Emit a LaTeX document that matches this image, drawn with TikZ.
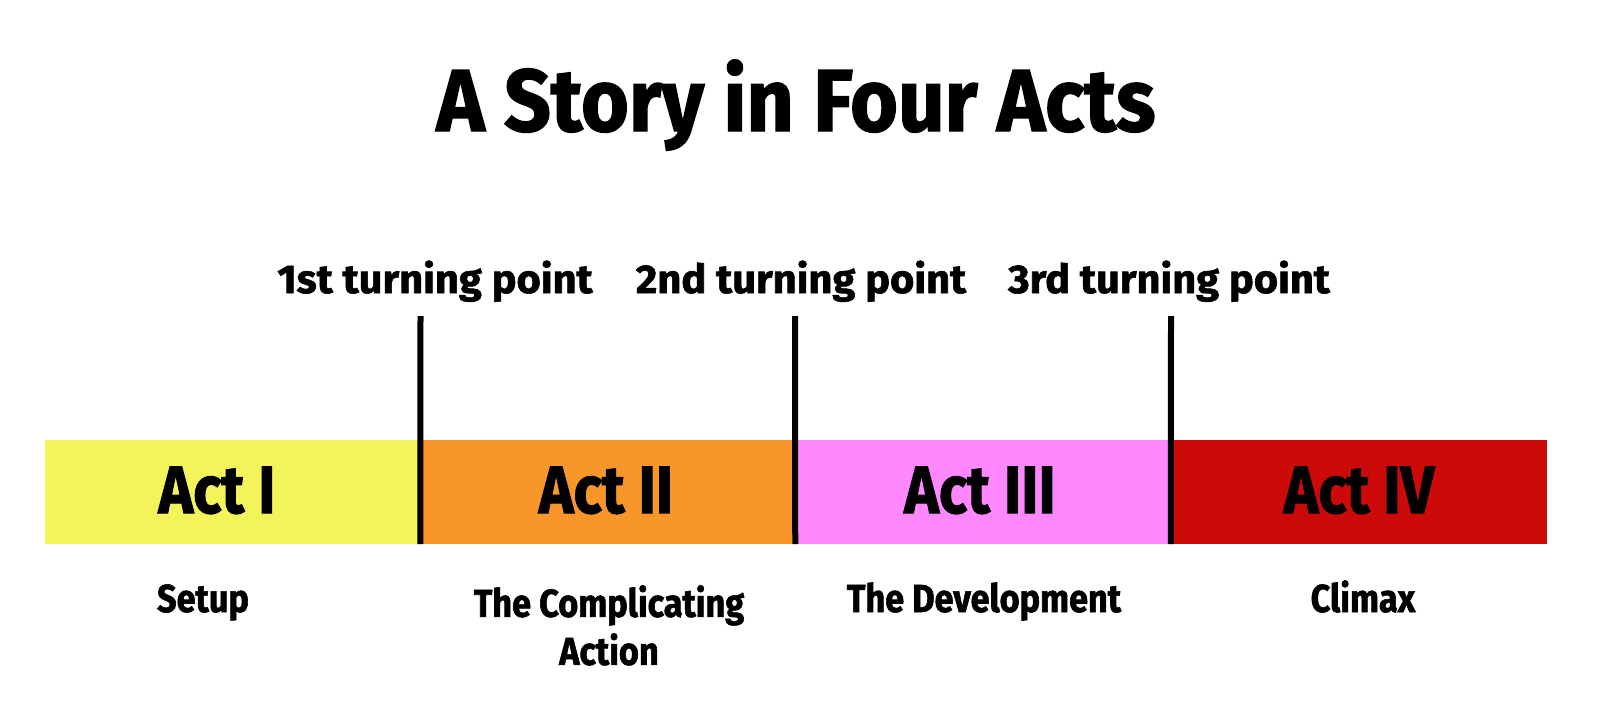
\documentclass[tikz,border=0pt]{standalone}
\usepackage{fontspec}
\setmainfont{Fira Sans}
\newfontfamily\titlefont{Fira Sans}[FakeStretch=0.93, BoldFeatures={FakeBold=1.5}]
\newfontfamily\actfont{Fira Sans}[FakeStretch=0.88, BoldFeatures={FakeBold=1.5}]
\newfontfamily\turnfont{Fira Sans}[FakeStretch=1.04, BoldFeatures={FakeBold=1.5}]
\newfontfamily\descfont{Fira Sans}[FakeStretch=0.88, BoldFeatures={FakeBold=1.5}]
\definecolor{actone}{HTML}{F3F35A}
\definecolor{acttwo}{HTML}{F8962A}
\definecolor{actthree}{HTML}{FF88FF}
\definecolor{actfour}{HTML}{CD0A0A}
\begin{document}
\begin{tikzpicture}[x=1pt,y=-1pt,
  bar/.style={draw=none,minimum width=375.5pt,minimum height=104pt,inner sep=0pt,outer sep=0pt},
  titletext/.style={font=\titlefont\fontsize{88}{88}\selectfont\bfseries,anchor=base,inner sep=0pt},
  actlabel/.style={font=\actfont\fontsize{67}{67}\selectfont\bfseries,anchor=base,inner sep=0pt},
  turnlabel/.style={font=\turnfont\fontsize{40}{40}\selectfont\bfseries,anchor=base,inner sep=0pt},
  desc/.style={font=\descfont\fontsize{39}{48}\selectfont\bfseries,anchor=base,inner sep=0pt,align=center},
  divider/.style={line width=6pt}]
\useasboundingbox (0,0) rectangle (1600,724);
\node[titletext] (title) at (796,131) {A Story in Four Acts};
% bars
\node[bar,fill=actone]   (b1) at (232.5,492) {};
\node[bar,fill=acttwo]   (b2) at (607.5,492) {};
\node[bar,fill=actthree] (b3) at (983,492) {};
\node[bar,fill=actfour]  (b4) at (1359.5,492) {};
% act labels
\node[actlabel] (l1) at (217,513) {Act I};
\node[actlabel] (l2) at (606,513) {Act II};
\node[actlabel] (l3) at (980,513) {Act III};
\node[actlabel] (l4) at (1359,513) {Act IV};
% dividers
\coordinate (t1) at (420.5,316);
\coordinate (t2) at (795,316);
\coordinate (t3) at (1171,316);
\draw[divider] (t1) -- (b1.south east);
\draw[divider] (t2) -- (b2.south east);
\draw[divider] (t3) -- (b3.south east);
% turning labels
\node[turnlabel] (p1) at (435,293) {1st turning point};
\node[turnlabel] (p2) at (801,293) {2nd turning point};
\node[turnlabel] (p3) at (1169,293) {3rd turning point};
% descriptions
\node[desc] (d1) at (203,612) {Setup};
\node[desc,anchor=north] (d2) at (609,585) {The Complicating\\Action};
\node[desc] (d3) at (984,612) {The Development};
\node[desc] (d4) at (1363,612) {Climax};
\end{tikzpicture}
\end{document}
